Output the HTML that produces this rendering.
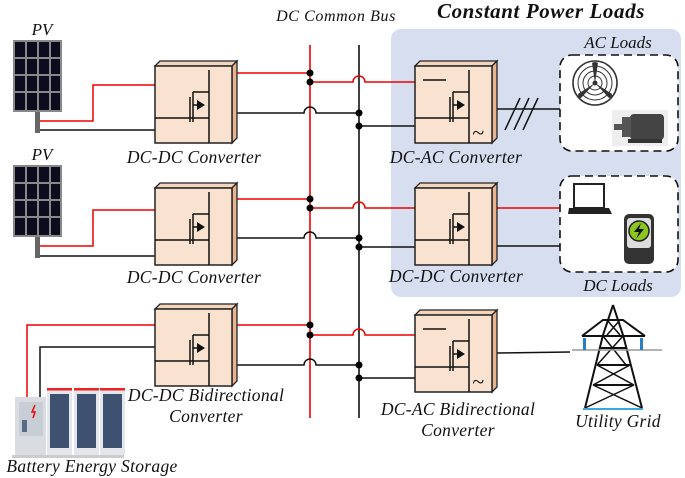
<!DOCTYPE html>
<html><head><meta charset="utf-8"><style>
html,body{margin:0;padding:0;background:#fff}
svg{display:block}
text{font-family:"Liberation Serif",serif;font-style:italic;fill:#111}
</style></head><body>
<svg width="685" height="478" viewBox="0 0 685 478" xmlns="http://www.w3.org/2000/svg">
<defs>
<g id="conv">
  <polygon points="0,0 5,-5 82,-5 77,0" fill="#f3d5bd" stroke="#222" stroke-width="1.3"/>
  <polygon points="77,0 82,-5 82,72 77,77" fill="#e8b48f" stroke="#222" stroke-width="1.3"/>
  <rect x="0" y="0" width="77" height="77" fill="#f9e2cf" stroke="#222" stroke-width="1.5"/>
  <g stroke="#111" stroke-width="1.5" fill="none">
    <polyline points="0,52 54,52"/>
    <polyline points="54,4 54,77"/>
    <polyline points="38,26 54,26"/>
    <polyline points="38,26 38,56"/>
    <polyline points="35,31 35,56"/>
    <polyline points="38,39 46,39"/>
  </g>
  <polygon points="42,34 50,39 42,44" fill="#111"/>
</g>
<g id="panel">
  <rect x="0" y="0" width="49" height="72" fill="#888" />
  <g fill="#0c0c1e">
    <rect x="2" y="2" width="10" height="15"/><rect x="14" y="2" width="10" height="15"/><rect x="26" y="2" width="10" height="15"/><rect x="38" y="2" width="9" height="15"/>
    <rect x="2" y="19" width="10" height="15"/><rect x="14" y="19" width="10" height="15"/><rect x="26" y="19" width="10" height="15"/><rect x="38" y="19" width="9" height="15"/>
    <rect x="2" y="36" width="10" height="15"/><rect x="14" y="36" width="10" height="15"/><rect x="26" y="36" width="10" height="15"/><rect x="38" y="36" width="9" height="15"/>
    <rect x="2" y="53" width="10" height="17"/><rect x="14" y="53" width="10" height="17"/><rect x="26" y="53" width="10" height="17"/><rect x="38" y="53" width="9" height="17"/>
  </g>
</g>
<g id="cab">
  <rect x="0" y="0" width="25" height="67" fill="#e3e6ea"/>
  <rect x="3" y="6" width="19" height="54" fill="#3f5170"/>
  <rect x="0" y="0" width="25" height="2.5" fill="#e22"/>
</g>
</defs>

<rect x="391" y="29" width="290" height="268" rx="10" fill="#d6deef"/>

<text x="336" y="21" font-size="16" letter-spacing="0.6" text-anchor="middle">DC Common Bus</text>
<text x="541" y="18" font-size="21" letter-spacing="0.6" font-weight="bold" text-anchor="middle">Constant Power Loads</text>
<text x="618" y="48" font-size="17" text-anchor="middle">AC Loads</text>
<text x="618" y="291" font-size="17" text-anchor="middle">DC Loads</text>
<text x="42" y="35" font-size="17" text-anchor="middle">PV</text>
<text x="42" y="160" font-size="17" text-anchor="middle">PV</text>

<!-- battery -->
<g>
  <rect x="15" y="397" width="31" height="58" fill="#d9dde2"/>
  <rect x="19" y="402" width="24" height="34" fill="#c8ced6"/>
  <path d="M35,405 l-3,7 h3 l-2,6" stroke="#e00" stroke-width="1.4" fill="none"/>
  <rect x="22" y="420" width="5" height="12" fill="#5a6b85"/>
  <use href="#cab" x="47" y="388"/>
  <use href="#cab" x="74" y="388"/>
  <use href="#cab" x="100" y="388"/>
  <rect x="12" y="455" width="112" height="3" fill="#ccc"/>
</g>

<line x1="310" y1="45" x2="310" y2="418" stroke="#e00" stroke-width="1.6"/>
<line x1="359" y1="45" x2="359" y2="418" stroke="#111" stroke-width="1.6"/>

<rect x="35" y="105" width="5" height="28" fill="#666"/>
<use href="#panel" x="13" y="40"/>
<rect x="35" y="230" width="5" height="28" fill="#666"/>
<use href="#panel" x="13" y="165"/>

<g fill="none" stroke-width="1.5">
  <polyline points="40,121 93,121 93,85 155,85" stroke="#e00"/>
  <polyline points="40,130 155,130" stroke="#111"/>
  <polyline points="40,246 93,246 93,210 155,210" stroke="#e00"/>
  <polyline points="40,256 155,256" stroke="#111"/>
  <polyline points="27,397 27,325 155,325" stroke="#e00"/>
  <polyline points="40,397 40,347 155,347" stroke="#111"/>

  <polyline points="237,73 310,73" stroke="#e00"/>
  <path d="M310,82 H353 A6,6 0 0 1 365,82 H415" stroke="#e00"/>
  <path d="M237,113 H304 A6,6 0 0 1 316,113 H359" stroke="#111"/>
  <polyline points="359,126 415,126" stroke="#111"/>
  <polyline points="237,199 310,199" stroke="#e00"/>
  <path d="M310,208 H353 A6,6 0 0 1 365,208 H415" stroke="#e00"/>
  <path d="M237,238 H304 A6,6 0 0 1 316,238 H359" stroke="#111"/>
  <polyline points="359,247 415,247" stroke="#111"/>
  <polyline points="237,325 310,325" stroke="#e00"/>
  <path d="M310,335 H353 A6,6 0 0 1 365,335 H415" stroke="#e00"/>
  <path d="M237,365 H304 A6,6 0 0 1 316,365 H359" stroke="#111"/>
  <polyline points="359,378 415,378" stroke="#111"/>

  <polyline points="497,109 560,109" stroke="#111"/>
  <polyline points="497,208 560,208" stroke="#e00"/>
  <polyline points="497,246 560,246" stroke="#111"/>
  <polyline points="497,353 570,352" stroke="#111"/>
  <line x1="505" y1="130" x2="520" y2="98" stroke="#111"/>
  <line x1="514" y1="130" x2="529" y2="98" stroke="#111"/>
  <line x1="523" y1="130" x2="538" y2="98" stroke="#111"/>
</g>

<g fill="#000">
  <circle cx="310" cy="73" r="3.5"/><circle cx="310" cy="82" r="3.5"/>
  <circle cx="359" cy="113" r="3.5"/><circle cx="359" cy="126" r="3.5"/>
  <circle cx="310" cy="199" r="3.5"/><circle cx="310" cy="208" r="3.5"/>
  <circle cx="359" cy="238" r="3.5"/><circle cx="359" cy="247" r="3.5"/>
  <circle cx="310" cy="325" r="3.5"/><circle cx="310" cy="335" r="3.5"/>
  <circle cx="359" cy="365" r="3.5"/><circle cx="359" cy="378" r="3.5"/>
</g>

<use href="#conv" x="155" y="66"/>
<use href="#conv" x="155" y="188"/>
<use href="#conv" x="155" y="309"/>
<use href="#conv" x="415" y="66"/>
<use href="#conv" x="415" y="188"/>
<use href="#conv" x="415" y="315"/>
<g stroke="#111" stroke-width="1.5">
  <line x1="423" y1="80" x2="446" y2="80"/>
  <line x1="423" y1="329" x2="446" y2="329"/>
</g>
<text x="472" y="140" font-size="22" font-style="normal">~</text>
<text x="472" y="389" font-size="22" font-style="normal">~</text>

<g font-size="17.5" letter-spacing="0.3" text-anchor="middle">
<text x="194" y="163">DC-DC Converter</text>
<text x="194" y="283">DC-DC Converter</text>
<text x="206" y="401">DC-DC Bidirectional</text>
<text x="206" y="422">Converter</text>
<text x="456" y="163">DC-AC Converter</text>
<text x="456" y="282">DC-DC Converter</text>
<text x="458" y="415">DC-AC Bidirectional</text>
<text x="458" y="436">Converter</text>
<text x="618" y="427">Utility Grid</text>
<text x="92" y="472">Battery Energy Storage</text>
</g>

<rect x="560" y="55" width="118" height="96" rx="12" fill="#fff" stroke="#111" stroke-width="1.6" stroke-dasharray="8,5"/>
<rect x="560" y="176" width="118" height="96" rx="12" fill="#fff" stroke="#111" stroke-width="1.6" stroke-dasharray="8,5"/>

<g stroke="#333" fill="none" stroke-width="1">
  <circle cx="595" cy="83" r="22" stroke-width="1.6"/><circle cx="595" cy="83" r="17"/><circle cx="595" cy="83" r="12"/><circle cx="595" cy="83" r="7"/>
</g>
<g fill="#333">
  <path d="M595,83 L592,63 Q595,61 598,63 Z"/>
  <path d="M595,83 L612,94 Q612,98 609,98 Z"/>
  <path d="M595,83 L578,94 Q578,98 581,98 Z"/>
  <circle cx="595" cy="83" r="2.5"/>
</g>
<rect x="612" y="110" width="56" height="36" fill="#eee"/>
<rect x="630" y="114" width="34" height="26" rx="4" fill="#444"/>
<rect x="622" y="117" width="9" height="20" fill="#555"/>
<rect x="614" y="124" width="9" height="6" fill="#555"/>
<rect x="628" y="139" width="34" height="4" fill="#333"/>

<rect x="574" y="184" width="30" height="24" fill="#fff" stroke="#222" stroke-width="2"/>
<polygon points="569,208 609,208 612,214 568,214" fill="#222"/>
<rect x="624" y="214" width="30" height="50" rx="5" fill="#333"/>
<rect x="627" y="218" width="24" height="30" rx="3" fill="#ddd"/>
<circle cx="639" cy="231" r="10" fill="#8bc520" stroke="#222" stroke-width="1.5"/>
<path d="M641,223 L634,232 L639,232 L636,239 L644,229 L639,229 Z" fill="#111"/>

<g stroke="#111" stroke-width="2" fill="none">
  <polyline points="613,305 603,335 585,408"/>
  <polyline points="613,305 623,335 642,408"/>
  <polyline points="582,336 645,336"/>
  <polyline points="582,336 603,320 623,320 645,336"/>
  <line x1="600" y1="348" x2="626" y2="348"/>
  <line x1="597" y1="365" x2="630" y2="365"/>
  <line x1="593" y1="385" x2="634" y2="385"/>
  <path d="M603,336 L626,365 M623,336 L597,365 M597,365 L634,385 M630,365 L593,385 M593,385 L642,408 M634,385 L585,408" stroke-width="1.5"/>
  <line x1="607" y1="320" x2="620" y2="335" stroke-width="1.5"/><line x1="620" y1="320" x2="607" y2="335" stroke-width="1.5"/>
</g>
<line x1="572" y1="350" x2="662" y2="350" stroke="#999" stroke-width="1.5"/>
<rect x="583" y="338" width="3" height="12" fill="#2a7fc0"/>
<rect x="640" y="338" width="3" height="12" fill="#2a7fc0"/>
<line x1="583" y1="409" x2="643" y2="409" stroke="#3aa7dd" stroke-width="2"/>
</svg>
</body></html>
